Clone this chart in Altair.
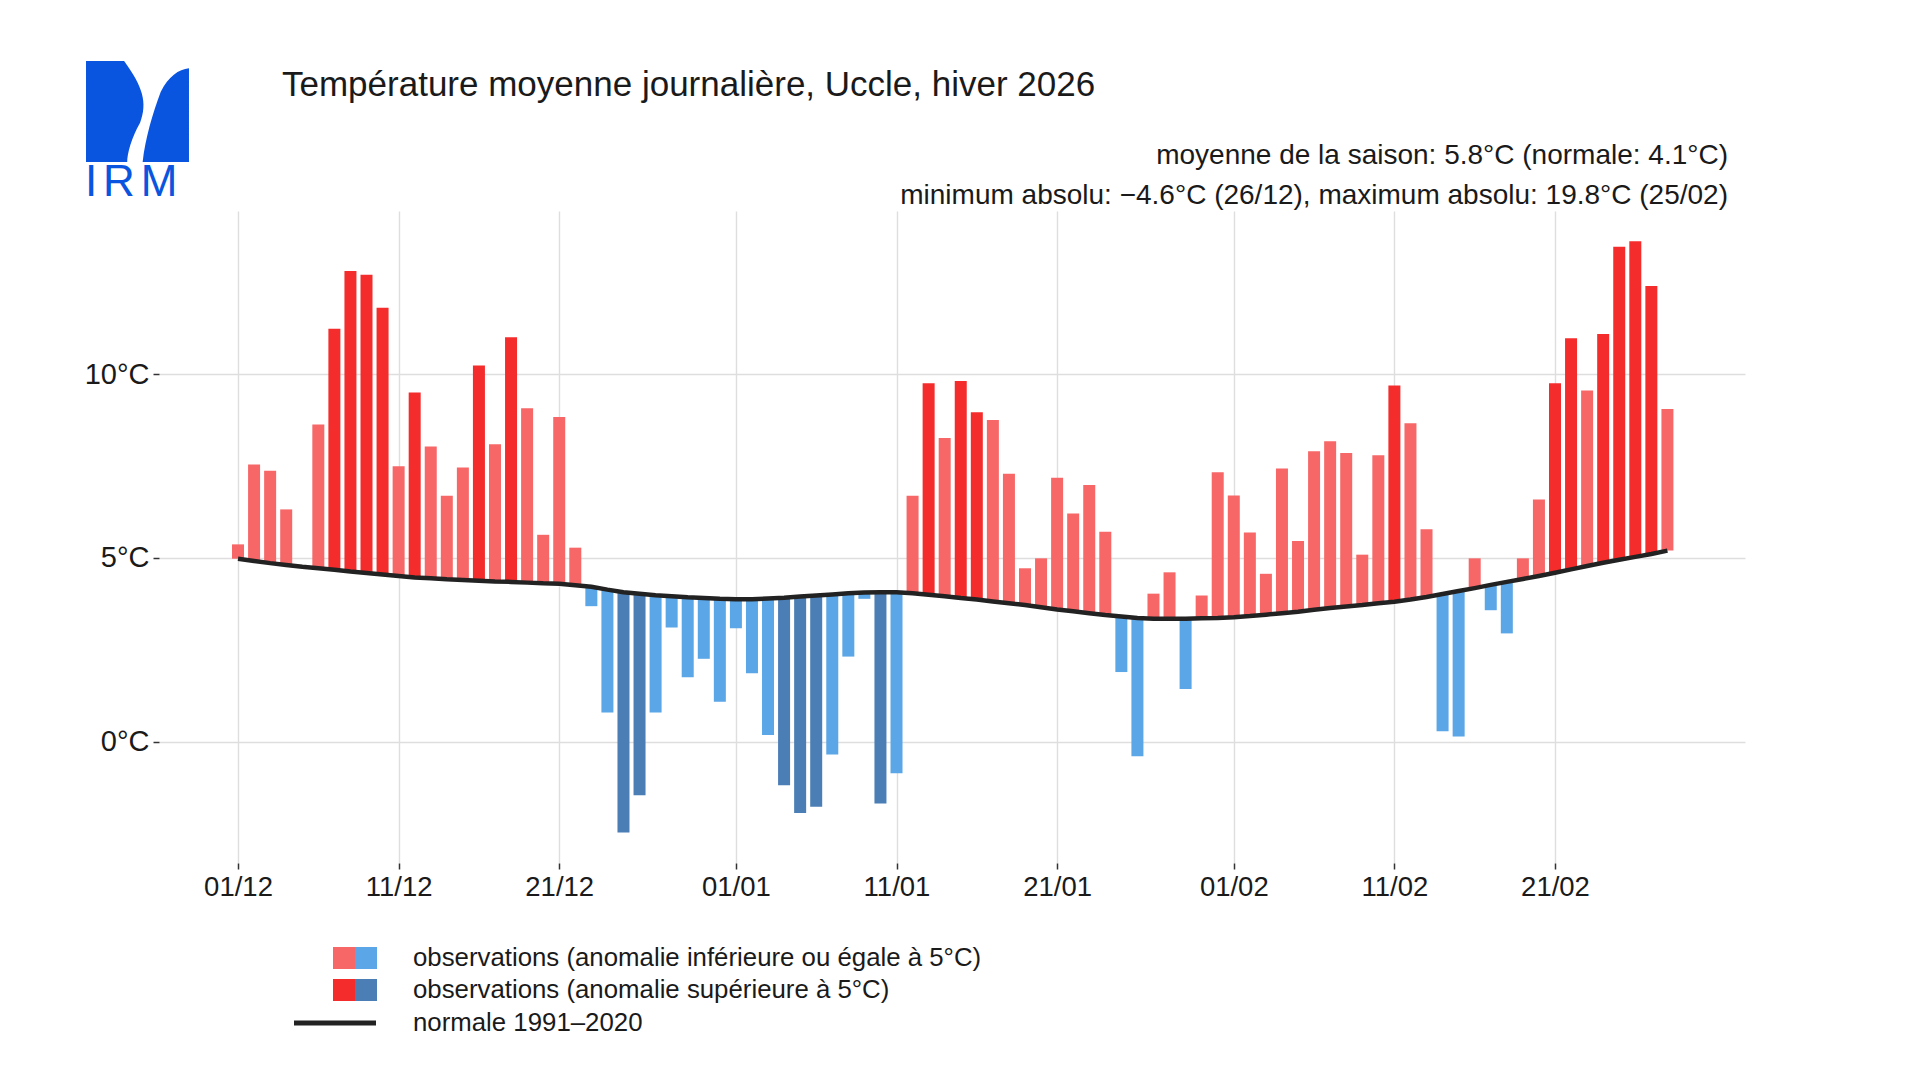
import altair as alt
import pandas as pd

# ---------------- data ----------------
start_date = "2025-12-01"
n_days = 90

observed = [
    5.37, 7.54, 7.37, 6.32, 4.76, 8.63, 11.23, 12.8, 12.7, 11.8,
    7.49, 9.5, 8.03, 6.69, 7.46, 10.23, 8.09, 11.0, 9.07, 5.63,
    8.83, 5.28, 3.69, 0.8, -2.46, -1.45, 0.8, 3.11, 1.76, 2.26,
    1.09, 3.09, 1.87, 0.19, -1.18, -1.93, -1.76, -0.34, 2.32, 3.89,
    -1.67, -0.85, 6.69, 9.75, 8.26, 9.81, 8.96, 8.75, 7.29, 4.72,
    4.99, 7.18, 6.21, 6.98, 5.71, 1.9, -0.39, 4.03, 4.61, 1.44,
    3.98, 7.33, 6.7, 5.69, 4.57, 7.43, 5.46, 7.9, 8.17, 7.85,
    5.09, 7.79, 9.69, 8.66, 5.78, 0.29, 0.15, 4.99, 3.58, 2.95,
    4.99, 6.59, 9.75, 10.97, 9.55, 11.09, 13.46, 13.61, 12.39, 9.05,
]

normal = [
    4.98, 4.92, 4.86, 4.81, 4.76, 4.72, 4.68, 4.63, 4.59, 4.55,
    4.51, 4.47, 4.45, 4.42, 4.40, 4.38, 4.36, 4.35, 4.33, 4.31,
    4.30, 4.26, 4.22, 4.14, 4.07, 4.03, 3.99, 3.96, 3.93, 3.91,
    3.89, 3.88, 3.88, 3.90, 3.92, 3.95, 3.98, 4.01, 4.04, 4.06,
    4.07, 4.07, 4.04, 4.00, 3.96, 3.91, 3.87, 3.82, 3.77, 3.72,
    3.66, 3.60, 3.55, 3.50, 3.45, 3.41, 3.37, 3.35, 3.35, 3.35,
    3.36, 3.37, 3.39, 3.42, 3.46, 3.50, 3.54, 3.59, 3.64, 3.68,
    3.72, 3.77, 3.81, 3.87, 3.94, 4.02, 4.10, 4.18, 4.27, 4.35,
    4.43, 4.51, 4.60, 4.69, 4.78, 4.87, 4.95, 5.03, 5.11, 5.20,
]

tick_days = [0, 10, 20, 31, 41, 51, 62, 72, 82]
tick_labels = ["01/12", "11/12", "21/12", "01/01", "11/01", "21/01", "01/02", "11/02", "21/02"]
y_ticks = [0, 5, 10]

classes = ["chaud", "très chaud", "froid", "très froid"]
class_colors = ["#F76767", "#F42C2C", "#5AA6E6", "#4A7EB5"]

title_text = "Température moyenne journalière, Uccle, hiver 2026"
sub_lines = [
    "moyenne de la saison: 5.8°C (normale: 4.1°C)",
    "minimum absolu: \u22124.6°C (26/12), maximum absolu: 19.8°C (25/02)",
]
legend_labels = [
    "observations (anomalie inférieure ou égale à 5°C)",
    "observations (anomalie supérieure à 5°C)",
    "normale 1991\u20132020",
]
logo_letters = ["I", "R", "M"]

FONT = "Liberation Sans"
TEXT_COLOR = "#1a1a1a"
LOGO_BLUE = "#0A55E0"

# ---------------- table ----------------
dates = pd.date_range(start_date, periods=n_days, freq="D")
df = pd.DataFrame({"date": dates, "obs": observed, "normal": normal})
df["day"] = (df["date"] - df["date"].iloc[0]).dt.days
df["anom"] = df["obs"] - df["normal"]


def classify(a):
    if a >= 0:
        return classes[1] if a > 5 else classes[0]
    return classes[3] if a < -5 else classes[2]


df["cls"] = df["anom"].apply(classify)
df["date"] = df["date"].dt.strftime("%Y-%m-%d")

W, H = 1586, 652
x_scale = alt.Scale(domain=[-4.92, 93.83], nice=False, zero=False, padding=0)
y_scale = alt.Scale(domain=[-3.29, 14.43], nice=False, zero=False, padding=0)

days_js = "[" + ",".join(str(d) for d in tick_days) + "]"
labels_js = "[" + ",".join("'" + s + "'" for s in tick_labels) + "]"

common_axis = dict(
    title=None,
    grid=True,
    gridColor="#DEDEDE",
    gridWidth=1.4,
    domain=False,
    tickColor="#333333",
    tickSize=6,
    tickWidth=1.5,
    labelFont=FONT,
    labelColor=TEXT_COLOR,
    labelPadding=4,
)
x_axis = alt.Axis(
    values=tick_days,
    labelExpr=f"{labels_js}[indexof({days_js}, datum.value)]",
    labelFontSize=27.5,
    **common_axis,
)
y_axis = alt.Axis(
    values=y_ticks,
    labelExpr="datum.value + '°C'",
    labelFontSize=29,
    **common_axis,
)

base = alt.Chart(df)

bars = base.mark_bar(size=12).encode(
    x=alt.X("day:Q", scale=x_scale, axis=x_axis),
    y=alt.Y("obs:Q", scale=y_scale, axis=y_axis),
    y2="normal:Q",
    color=alt.Color("cls:N", scale=alt.Scale(domain=classes, range=class_colors), legend=None),
)

line = base.mark_line(color="#222222", strokeWidth=4.5).encode(
    x=alt.X("day:Q", scale=x_scale),
    y=alt.Y("normal:Q", scale=y_scale),
)

# ---------------- titles ----------------
title = alt.Chart(pd.DataFrame({"t": [title_text]})).mark_text(
    align="left", baseline="middle", fontSize=35, font=FONT, color=TEXT_COLOR
).encode(text="t:N", x=alt.value(123), y=alt.value(-126))

sub1 = alt.Chart(pd.DataFrame({"t": [sub_lines[0]]})).mark_text(
    align="right", baseline="middle", fontSize=28, font=FONT, color=TEXT_COLOR
).encode(text="t:N", x=alt.value(1569), y=alt.value(-55))
sub2 = alt.Chart(pd.DataFrame({"t": [sub_lines[1]]})).mark_text(
    align="right", baseline="middle", fontSize=28, font=FONT, color=TEXT_COLOR
).encode(text="t:N", x=alt.value(1569), y=alt.value(-15))

# ---------------- logo ----------------
logo_path = (
    "M-1,-1 L-0.26,-1 C0.1,-0.5 0.2,-0.2 0.05,0.2 C-0.12,0.5 -0.2,0.8 -0.2,0.96 L-1,0.96 Z "
    "M1,-0.86 L1,0.96 L0.1,0.96 C0.15,0.5 0.3,0.0 0.45,-0.4 C0.6,-0.7 0.8,-0.84 1,-0.86 Z"
)
logo_shape = alt.Chart(pd.DataFrame({"k": ["logo"]})).mark_point(
    shape=logo_path, filled=True, color=LOGO_BLUE, opacity=1, size=10600, strokeWidth=0
).encode(x=alt.value(-21.5), y=alt.value(-98.5))
logo_text = [
    alt.Chart(pd.DataFrame({"t": [ch]})).mark_text(
        align="center", baseline="alphabetic", fontSize=44, font=FONT, color=LOGO_BLUE
    ).encode(text="t:N", x=alt.value(xv), y=alt.value(-15))
    for ch, xv in zip(logo_letters, [-68, -40, 0])
]

# ---------------- custom legend ----------------
sw = []
for row, yv in enumerate([747, 779]):
    for col, x0 in enumerate([174, 196]):
        c = class_colors[[0, 2][col]] if row == 0 else class_colors[[1, 3][col]]
        sw.append(
            alt.Chart(pd.DataFrame({"k": [c]})).mark_rect(color=c).encode(
                x=alt.value(x0), x2=alt.value(x0 + 22),
                y=alt.value(yv - 11), y2=alt.value(yv + 11),
            )
        )
leg_line = alt.Chart(pd.DataFrame({"k": ["line"]})).mark_rule(
    color="#222222", strokeWidth=5
).encode(x=alt.value(135), x2=alt.value(217), y=alt.value(812))
leg_texts = [
    alt.Chart(pd.DataFrame({"t": [lab]})).mark_text(
        align="left", baseline="middle", fontSize=25.8, font=FONT, color=TEXT_COLOR
    ).encode(text="t:N", x=alt.value(254), y=alt.value(yv))
    for lab, yv in zip(legend_labels, [747, 779, 812])
]

chart = alt.layer(
    bars, line, title, sub1, sub2, logo_shape, *logo_text, *sw, leg_line, *leg_texts
).properties(
    width=W,
    height=H,
    autosize=alt.AutoSizeParams(type="none"),
    padding={"left": 159, "top": 211, "right": 175, "bottom": 216},
    background="white",
).configure_view(stroke="transparent")

chart.save("out.html", embed_options={"renderer": "svg", "actions": False})
